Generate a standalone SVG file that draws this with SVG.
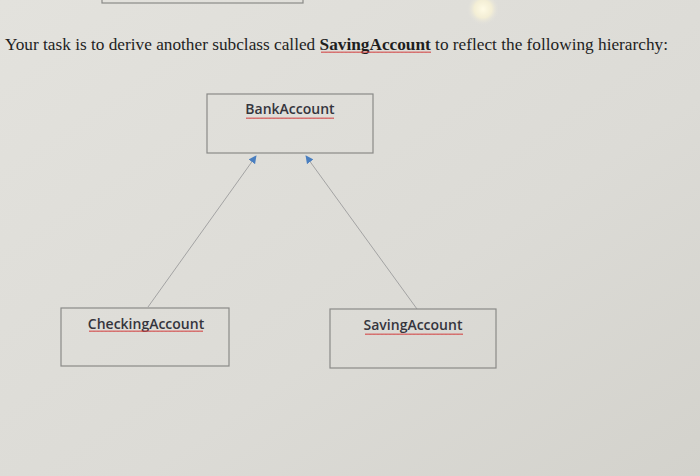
<svg xmlns="http://www.w3.org/2000/svg" width="700" height="476" viewBox="0 0 700 476">
<defs>
<linearGradient id="bg" x1="0" y1="0" x2="1" y2="1">
<stop offset="0" stop-color="#e3e2dd"/>
<stop offset="0.6" stop-color="#dcdbd6"/>
<stop offset="1" stop-color="#d3d2cc"/>
</linearGradient>
<radialGradient id="glare">
<stop offset="0" stop-color="#fffbe6"/>
<stop offset="0.55" stop-color="#f7f1d5" stop-opacity="0.85"/>
<stop offset="1" stop-color="#e3e2dd" stop-opacity="0"/>
</radialGradient>
<pattern id="wavy" width="4" height="3" patternUnits="userSpaceOnUse">
<path d="M0,2 L1,0.5 L2,2 L3,0.5 L4,2" fill="none" stroke="#d04040" stroke-width="0.8"/>
</pattern>
<marker id="tri" viewBox="0 0 10 10" refX="9" refY="5" markerWidth="8" markerHeight="8" orient="auto-start-reverse">
<path d="M0,0 L10,5 L0,10 Z" fill="#4a7fc0"/>
</marker>
<style>
.box{fill:none;stroke:#8a8a88;stroke-width:1.2}
.lbl{font-family:"Open Sans","Liberation Sans",sans-serif;font-weight:600;font-size:14px;fill:#35353d;text-anchor:middle}
.conn{stroke:#a3a3a3;stroke-width:1;fill:none}
</style>
</defs>
<rect width="700" height="476" fill="url(#bg)"/>
<circle cx="483" cy="9" r="16" fill="url(#glare)"/>
<rect x="102" y="-5" width="201" height="8" fill="none" stroke="#8a8a88" stroke-width="1.2"/>
<text x="5" y="50" font-family="Liberation Serif,serif" font-size="17" fill="#1e1e1e" textLength="663" lengthAdjust="spacingAndGlyphs">Your task is to derive another subclass called <tspan font-weight="bold">SavingAccount</tspan> to reflect the following hierarchy:</text>
<rect x="321" y="51" width="110" height="3" fill="url(#wavy)"/>
<g id="connectors">
<line class="conn" x1="148" y1="307" x2="256" y2="156" marker-end="url(#tri)"/>
<line class="conn" x1="417" y1="309" x2="306" y2="156" marker-end="url(#tri)"/>
</g>
<g id="BankAccount">
<rect class="box" x="207" y="94" width="166" height="59"/>
<text class="lbl" x="290" y="114">BankAccount</text>
<rect x="246" y="117" width="88" height="3" fill="url(#wavy)"/>
</g>
<g id="CheckingAccount">
<rect class="box" x="61" y="308" width="168" height="58"/>
<text class="lbl" x="146" y="329">CheckingAccount</text>
<rect x="89" y="330" width="114" height="3" fill="url(#wavy)"/>
</g>
<g id="SavingAccount">
<rect class="box" x="330" y="309" width="166" height="59"/>
<text class="lbl" x="413" y="330">SavingAccount</text>
<rect x="365" y="333" width="98" height="3" fill="url(#wavy)"/>
</g>
</svg>
